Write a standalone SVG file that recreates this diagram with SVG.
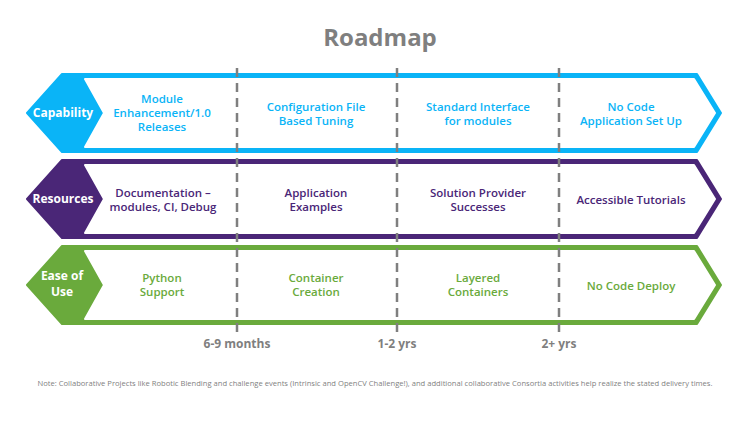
<svg xmlns="http://www.w3.org/2000/svg" width="750" height="422" viewBox="0 0 750 422">
<style>
.t{font-family:"Open Sans","Liberation Sans",sans-serif;font-weight:600;font-size:11.5px;text-anchor:middle}
.lab{font-family:"Open Sans","Liberation Sans",sans-serif;font-weight:700;font-size:12px;fill:#fff;text-anchor:middle}
.inner{fill:#fff}
.dash{stroke:#7f7f7f;stroke-width:2.5;stroke-dasharray:9,6;fill:none}
.tm{font-family:"Open Sans","Liberation Sans",sans-serif;font-weight:700;font-size:12px;fill:#7f7f7f;text-anchor:middle}
</style>
<rect width="750" height="422" fill="#fff"/>
<text x="380" y="46" font-family="Open Sans,Liberation Sans,sans-serif" font-weight="700" font-size="24" fill="#7f7f7f" text-anchor="middle">Roadmap</text>
<g id="row-capability">
<polygon points="62,74 697,74 721,113 697,152 62,152 27,113" fill="#0AB4F7" stroke="#0AB4F7" stroke-width="2" stroke-linejoin="round"/>
<polygon class="inner" points="85,79 694,79 715,113 694,147 85,147 104,113" stroke="#fff" stroke-width="2" stroke-linejoin="round"/>
<text class="lab" x="63" y="117">Capability</text>
<g class="t" fill="#0AB4F7">
<text x="162" y="103">Module</text><text x="162" y="117">Enhancement/1.0</text><text x="162" y="131">Releases</text>
<text x="316" y="111">Configuration File</text><text x="316" y="125">Based Tuning</text>
<text x="478" y="111">Standard Interface</text><text x="478" y="125">for modules</text>
<text x="631" y="111">No Code</text><text x="631" y="125">Application Set Up</text>
</g>
</g>
<g id="row-resources">
<polygon points="62,160 697,160 721,199 697,238 62,238 27,199" fill="#4A2677" stroke="#4A2677" stroke-width="2" stroke-linejoin="round"/>
<polygon class="inner" points="85,165 694,165 715,199 694,233 85,233 104,199" stroke="#fff" stroke-width="2" stroke-linejoin="round"/>
<text class="lab" x="63" y="203">Resources</text>
<g class="t" fill="#4A2677">
<text x="163" y="197">Documentation –</text><text x="163" y="211">modules, CI, Debug</text>
<text x="316" y="197">Application</text><text x="316" y="211">Examples</text>
<text x="478" y="197">Solution Provider</text><text x="478" y="211">Successes</text>
<text x="631" y="204">Accessible Tutorials</text>
</g>
</g>
<g id="row-ease">
<polygon points="62,246 697,246 721,285 697,324 62,324 27,285" fill="#6AAA3C" stroke="#6AAA3C" stroke-width="2" stroke-linejoin="round"/>
<polygon class="inner" points="85,251 694,251 715,285 694,319 85,319 104,285" stroke="#fff" stroke-width="2" stroke-linejoin="round"/>
<text class="lab" x="62" y="280" font-size="11">Ease of</text><text class="lab" x="62" y="296" font-size="11">Use</text>
<g class="t" fill="#6AAA3C">
<text x="162" y="282">Python</text><text x="162" y="296">Support</text>
<text x="316" y="282">Container</text><text x="316" y="296">Creation</text>
<text x="478" y="282">Layered</text><text x="478" y="296">Containers</text>
<text x="631" y="290">No Code Deploy</text>
</g>
</g>
<g id="connectors">
<line class="dash" x1="237" y1="68" x2="237" y2="332"/>
<line class="dash" x1="397" y1="68" x2="397" y2="332"/>
<line class="dash" x1="559" y1="68" x2="559" y2="332"/>
</g>
<text class="tm" x="237" y="348">6-9 months</text>
<text class="tm" x="397" y="348">1-2 yrs</text>
<text class="tm" x="559" y="348">2+ yrs</text>
<text x="375" y="386" font-family="Open Sans,Liberation Sans,sans-serif" font-size="7.6" fill="#7f7f7f" text-anchor="middle">Note: Collaborative Projects like Robotic Blending and challenge events (Intrinsic and OpenCV Challenge!), and additional collaborative Consortia activities help realize the stated delivery times.</text>
</svg>
